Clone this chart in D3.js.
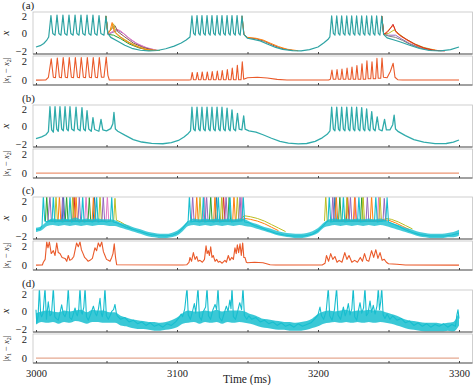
<!DOCTYPE html>
<html>
<head>
<meta charset="utf-8">
<script src="https://cdn.jsdelivr.net/npm/d3@7"></script>
<style>
  body { margin: 0; background: #fff; }
  text { font-family: "Liberation Serif", "DejaVu Serif", "Times New Roman", serif; }
</style>
</head>
<body>
<script>
// ---- data (time in ms) ----

// (a) synchronised bursting, top trace
var aMain = [
  [3000,-1.55],[3003,-1.4],[3005.5,-1.15],[3007.5,-0.8],[3009,-0.4],
  [3010.6,2.05],[3011.9,0.0],[3013.5,-0.2],[3014.9,2.1],[3016.2,0.0],[3017.7,-0.2],
  [3019.1,2.1],[3020.4,0.0],[3022.0,-0.2],[3023.4,2.1],[3024.7,0.0],[3026.3,-0.2],
  [3027.7,2.1],[3029.0,0.0],[3030.5,-0.2],[3031.9,2.1],[3033.2,0.0],[3034.8,-0.2],
  [3036.2,2.1],[3037.5,0.0],[3039.0,-0.2],[3040.4,2.1],[3041.7,0.0],[3043.3,-0.2],
  [3044.7,2.05],[3046.0,0.0],[3048.2,-0.2],[3049.6,1.95],[3050.9,0.0],
  [3053,-0.45],[3058,-0.9],[3063,-1.35],[3068,-1.7],[3074,-1.92],[3080,-2.0],[3086,-1.95],
  [3092,-1.75],[3098,-1.45],[3103,-1.1],[3106.5,-0.75],[3109.2,-0.4],
  [3110.6,2.0],[3111.8,0.0],[3112.9,-0.2],[3114.2,2.05],[3115.4,0.0],[3116.4,-0.2],
  [3117.7,2.05],[3118.9,0.0],[3120.0,-0.2],[3121.3,2.05],[3122.5,0.0],[3123.5,-0.2],
  [3124.8,2.05],[3126.0,0.0],[3127.1,-0.2],[3128.4,2.05],[3129.6,0.0],[3130.6,-0.2],
  [3131.9,2.05],[3133.1,0.0],[3134.2,-0.2],[3135.5,2.05],[3136.7,0.0],[3137.7,-0.2],
  [3139.0,2.05],[3140.2,0.0],[3141.3,-0.2],[3142.6,2.05],[3143.8,0.0],[3144.8,-0.2],
  [3146.1,2.0],[3147.4,-0.1],[3150,-0.55],[3155,-0.7],[3159,-0.85],[3164,-1.2],[3170,-1.6],
  [3175,-1.82],[3182,-1.96],[3188,-2.0],[3194,-1.85],[3200,-1.55],[3204,-1.1],[3207,-0.7],[3208.4,-0.4],
  [3209.7,2.0],[3210.9,0.0],[3212.0,-0.2],[3213.3,2.0],[3214.5,0.0],[3215.5,-0.2],
  [3216.8,2.0],[3218.0,0.0],[3219.1,-0.2],[3220.4,2.0],[3221.6,0.0],[3222.6,-0.2],
  [3223.9,2.0],[3225.1,0.0],[3226.1,-0.2],[3227.4,2.0],[3228.6,0.0],[3229.7,-0.2],
  [3231.0,2.0],[3232.2,0.0],[3233.2,-0.2],[3234.5,2.0],[3235.7,0.0],[3236.8,-0.2],
  [3238.1,2.0],[3239.3,0.0],[3240.3,-0.2],[3241.6,2.0],[3242.8,0.0],[3243.9,-0.2],
  [3245.2,1.95],[3246.5,-0.1],[3249,-0.5],[3254,-0.75],[3258,-0.95],[3265,-1.35],
  [3272,-1.72],[3279,-1.95],[3287,-2.0],[3294,-1.85],[3300,-1.55]
];

// (a) the other neurons, where they leave the common trace
var aOrange = [[3049.6,2.0],[3051,0.0],[3052.5,0.3],[3054,1.25],[3055.5,0.2],[3058,-0.2],[3063,-0.8],[3070,-1.4],[3078,-1.85],[3086,-1.95]];
var aOlive  = [[3049.6,2.0],[3051,0.0],[3053,0.4],[3055,1.1],[3056.5,0.1],[3060,-0.4],[3066,-1.0],[3073,-1.55],[3080,-1.9],[3088,-1.95]];
var aPink   = [[3049.6,2.0],[3051,-0.1],[3054,0.2],[3057,0.5],[3060,0.3],[3065,-0.4],[3071,-1.1],[3078,-1.6],[3085,-1.9]];
var aPurple = [[3049.6,2.0],[3051,-0.1],[3054,0.1],[3058,0.35],[3062,0.0],[3067,-0.7],[3073,-1.3],[3080,-1.75],[3087,-1.95]];
var aBrown  = [[3049.6,2.0],[3051,0.0],[3054,0.6],[3056,0.9],[3058,0.2],[3063,-0.4],[3069,-1.1],[3076,-1.6],[3083,-1.9]];
var aGreen  = [[3049.6,2.0],[3051,-0.1],[3055,-0.2],[3060,-0.6],[3066,-1.2],[3073,-1.65],[3081,-1.95]];
var aOrange2 = [[3146.1,2.0],[3147.5,-0.1],[3150,-0.45],[3156,-0.55],[3161,-0.75],[3166,-1.1],[3172,-1.5],[3178,-1.8],[3186,-1.98]];
var aBrown2  = [[3146.1,2.0],[3147.5,-0.15],[3150,-0.5],[3156,-0.6],[3162,-0.9],[3168,-1.35],[3174,-1.7],[3182,-1.95]];
var aRed3    = [[3245.2,2.0],[3246.6,-0.1],[3249,0.1],[3251.5,0.6],[3253.2,1.05],[3255,0.3],[3258,-0.2],[3263,-0.7],[3269,-1.25],[3275,-1.65],[3282,-1.92],[3290,-2.0]];
var aOrange3 = [[3245.2,2.0],[3246.6,-0.1],[3249,0.2],[3252,0.75],[3253.5,0.9],[3255.5,0.1],[3259,-0.35],[3265,-0.95],[3271,-1.45],[3278,-1.8],[3286,-1.98]];
var aOlive3  = [[3245.2,2.0],[3246.6,-0.1],[3250,0.0],[3254,0.4],[3257,0.0],[3262,-0.6],[3268,-1.15],[3275,-1.6],[3283,-1.9]];
var aGray3   = [[3245.2,2.0],[3246.6,-0.1],[3250,-0.3],[3255,-0.45],[3260,-0.8],[3266,-1.3],[3273,-1.7],[3281,-1.95]];
var aPurple3 = [[3245.2,2.0],[3246.6,-0.1],[3250,-0.2],[3255,-0.2],[3259,-0.6],[3265,-1.15],[3272,-1.6],[3280,-1.9]];

var aDiff = [
  [3000,0.0],[3007,0.02],[3008.8,0.3],
  [3010.8,2.2],[3012.3,0.3],[3013.8,0.25],[3015.1,2.3],[3016.6,0.3],[3018.0,0.25],
  [3019.3,2.35],[3020.8,0.3],[3022.3,0.25],[3023.6,2.35],[3025.1,0.3],[3026.6,0.25],
  [3027.9,2.35],[3029.4,0.3],[3030.8,0.25],[3032.1,2.35],[3033.6,0.3],[3035.1,0.25],
  [3036.4,2.35],[3037.9,0.3],[3039.3,0.25],[3040.6,2.35],[3042.1,0.3],[3043.6,0.25],
  [3044.9,2.35],[3046.4,0.3],[3048.2,0.3],[3049.8,2.4],[3051.0,0.5],[3052.0,0.02],
  [3108.5,0.02],[3109.9,0.05],
  [3110.8,0.8],[3111.7,0.05],[3113.5,0.05],[3114.4,0.8],[3115.3,0.05],[3117.0,0.05],
  [3117.9,0.85],[3118.8,0.05],[3120.6,0.05],[3121.5,0.85],[3122.4,0.05],[3124.1,0.05],
  [3125.0,0.9],[3125.9,0.05],[3127.7,0.05],[3128.6,0.95],[3129.5,0.05],[3131.2,0.05],
  [3132.1,1.0],[3133.0,0.05],[3134.8,0.05],[3135.7,1.1],[3136.6,0.05],[3138.3,0.05],
  [3139.2,1.25],[3140.1,0.05],[3141.9,0.05],[3142.8,1.55],[3143.7,0.05],[3145.4,0.05],
  [3146.3,1.9],[3147.3,0.1],[3150,0.25],[3157,0.3],[3164,0.22],[3171,0.08],[3178,0.02],
  [3207.5,0.02],[3208.8,0.1],
  [3209.9,1.05],[3210.8,0.1],[3212.6,0.1],[3213.5,1.1],[3214.4,0.1],[3216.1,0.1],
  [3217.0,1.15],[3217.9,0.1],[3219.7,0.1],[3220.6,1.25],[3221.5,0.1],[3223.2,0.1],
  [3224.1,1.35],[3225.0,0.1],[3226.7,0.1],[3227.6,1.5],[3228.5,0.1],[3230.3,0.1],
  [3231.2,1.7],[3232.1,0.1],[3233.8,0.1],[3234.7,2.0],[3235.6,0.15],[3237.4,0.15],
  [3238.3,1.9],[3239.2,0.15],[3240.9,0.15],[3241.8,2.25],[3242.7,0.2],[3244.5,0.2],
  [3245.4,2.3],[3246.4,0.3],[3249,0.25],[3251.3,0.9],[3253.3,1.75],[3254.6,0.3],
  [3256.5,0.05],[3260,0.02],[3300,0.02]
];

// (b) complete synchronisation
var bMain = [
  [3000,-1.4],[3004,-1.2],[3007,-0.95],[3008.8,-0.6],
  [3009.9,2.25],[3011.1,-0.4],[3012.3,-0.65],[3013.5,2.25],[3014.7,-0.3],[3015.8,-0.55],
  [3017.0,2.25],[3018.2,-0.3],[3019.4,-0.5],[3020.6,2.25],[3021.8,-0.3],[3022.9,-0.5],
  [3024.1,2.25],[3025.3,-0.3],[3027.0,-0.5],[3028.4,2.2],[3029.6,-0.3],[3031.3,-0.5],
  [3032.6,2.15],[3033.8,-0.3],[3035.0,-0.5],[3036.2,1.8],[3037.4,-0.3],[3039.2,-0.55],
  [3040.4,1.0],[3041.6,-0.35],[3044.6,-0.55],[3046.1,0.8],[3047.4,-0.4],[3050,-0.5],
  [3053,-0.25],[3054.5,0.3],[3055.3,1.6],[3056.3,-0.3],[3058,-0.55],[3063,-1.0],[3069,-1.5],
  [3075,-1.78],[3082,-1.93],[3090,-1.98],[3096,-1.85],[3101,-1.6],[3105,-1.2],[3108,-0.8],[3109.6,-0.5],
  [3110.6,2.2],[3111.8,-0.3],[3112.9,-0.5],[3114.2,2.2],[3115.4,-0.3],[3116.4,-0.5],
  [3117.7,2.2],[3118.9,-0.3],[3120.0,-0.5],[3121.3,2.2],[3122.5,-0.3],[3123.5,-0.5],
  [3124.8,2.2],[3126.0,-0.3],[3127.1,-0.5],[3128.4,2.2],[3129.6,-0.3],[3130.6,-0.5],
  [3131.9,2.2],[3133.1,-0.3],[3134.2,-0.5],[3135.5,2.1],[3136.7,-0.3],[3137.7,-0.5],
  [3139.0,1.9],[3140.2,-0.3],[3141.5,-0.5],[3142.9,1.5],[3144.1,-0.3],[3146.0,-0.4],
  [3147.3,1.2],[3148.3,-0.3],[3151,-0.5],[3156,-0.65],[3161,-0.95],[3167,-1.35],[3173,-1.7],
  [3179,-1.9],[3186,-2.0],[3192,-1.95],[3198,-1.7],[3203,-1.3],[3206.5,-0.9],[3208.5,-0.5],
  [3209.7,2.2],[3210.9,-0.3],[3212.0,-0.5],[3213.3,2.2],[3214.5,-0.3],[3215.5,-0.5],
  [3216.8,2.2],[3218.0,-0.3],[3219.1,-0.5],[3220.4,2.2],[3221.6,-0.3],[3222.6,-0.5],
  [3223.9,2.2],[3225.1,-0.3],[3226.1,-0.5],[3227.4,2.2],[3228.6,-0.3],[3229.7,-0.5],
  [3231.0,2.15],[3232.2,-0.3],[3233.2,-0.5],[3234.5,2.0],[3235.7,-0.3],[3236.8,-0.5],
  [3238.1,1.7],[3239.3,-0.3],[3240.5,-0.5],[3242.0,1.1],[3243.3,-0.35],[3245.5,-0.5],
  [3247.2,0.8],[3248.5,-0.4],[3251,-0.4],[3253,0.2],[3254,1.3],[3255,-0.3],[3257,-0.6],
  [3262,-1.05],[3268,-1.5],[3275,-1.8],[3283,-1.96],[3291,-1.95],[3296,-1.8],[3300,-1.55]
];
var bDiff = [[3000,0.0],[3300,0.0]];

// (c) noisy, desynchronised: noise band [t, low, high] and spikes
var cBand = [
  [3000,-1.55,-1.05],[3004,-1.35,-0.85],[3008,-0.85,-0.3],[3012,-0.75,0.0],[3016,-0.85,-0.1],[3020,-0.75,0.0],
  [3024,-0.85,-0.1],[3028,-0.75,0.1],[3032,-0.85,-0.1],[3036,-0.75,0.0],[3040,-0.85,-0.1],[3044,-0.75,0.0],
  [3048,-0.75,-0.1],[3052,-0.85,-0.1],[3056,-0.85,-0.2],[3060,-1.05,-0.5],[3064,-1.25,-0.7],[3068,-1.45,-0.95],
  [3072,-1.65,-1.15],[3076,-1.85,-1.35],[3080,-2.05,-1.55],[3084,-2.15,-1.65],[3088,-2.25,-1.75],[3092,-2.25,-1.75],
  [3096,-2.15,-1.65],[3100,-1.95,-1.4],[3104,-1.45,-0.9],[3108,-0.85,-0.3],[3112,-0.75,0.0],[3116,-0.85,-0.1],
  [3120,-0.75,0.0],[3124,-0.85,-0.1],[3128,-0.75,0.0],[3132,-0.85,-0.1],[3136,-0.75,0.0],[3140,-0.85,-0.1],
  [3144,-0.75,0.0],[3148,-0.85,-0.1],[3152,-0.95,-0.4],[3156,-1.15,-0.6],[3160,-1.35,-0.85],[3164,-1.55,-1.05],
  [3168,-1.75,-1.25],[3172,-1.95,-1.45],[3176,-2.05,-1.6],[3180,-2.15,-1.7],[3184,-2.25,-1.75],[3188,-2.25,-1.75],
  [3192,-2.15,-1.65],[3196,-1.95,-1.45],[3200,-1.65,-1.1],[3204,-1.05,-0.5],[3208,-0.85,-0.1],[3212,-0.75,0.0],
  [3216,-0.85,-0.1],[3220,-0.75,0.0],[3224,-0.85,-0.1],[3228,-0.75,0.0],[3232,-0.85,-0.1],[3236,-0.75,0.0],
  [3240,-0.85,-0.1],[3244,-0.75,0.0],[3248,-0.85,-0.2],[3252,-1.05,-0.5],[3256,-1.25,-0.7],[3260,-1.45,-0.95],
  [3264,-1.65,-1.15],[3268,-1.85,-1.35],[3272,-2.05,-1.55],[3276,-2.15,-1.65],[3280,-2.25,-1.75],[3284,-2.25,-1.75],
  [3288,-2.25,-1.75],[3292,-2.15,-1.65],[3296,-2.15,-1.55],[3300,-1.95,-1.3]
];
var cCyan = [
  [3000,-1.3],[3003,-1.2],[3004.3,-0.8],[3005.2,2.6],[3006.2,-0.3],[3008,-0.4],[3010,-0.2],[3011.4,-0.3],
  [3012.3,2.6],[3013.3,-0.4],[3016,-0.3],[3019,-0.4],[3021,-0.2],[3023.2,-0.3],[3024.1,2.6],[3025.1,-0.4],
  [3028,-0.3],[3031,-0.4],[3032.2,-0.3],[3033.1,2.6],[3034.1,-0.4],[3037,-0.3],[3040,-0.4],[3042.1,-0.2],
  [3043,2.6],[3044,-0.4],[3047,-0.3],[3050,-0.4],[3052.8,-0.3],[3053.7,2.5],[3054.7,-0.4],[3057,-0.5],
  [3060,-0.7],[3064,-1.0],[3068,-1.2],[3072,-1.4],[3076,-1.6],[3080,-1.8],[3086,-1.95],[3092,-2.0],
  [3097,-1.9],[3101,-1.6],[3104,-1.1],[3107,-0.5],[3107.9,-0.3],[3108.8,2.6],[3109.8,-0.4],[3113,-0.3],
  [3116,-0.4],[3117.8,-0.3],[3118.7,2.6],[3119.7,-0.4],[3123,-0.3],[3126,-0.4],[3128.4,-0.3],[3129.3,2.6],
  [3130.3,-0.4],[3134,-0.3],[3136.7,-0.3],[3137.6,2.6],[3138.6,-0.4],[3142,-0.3],[3146.1,-0.3],[3147,2.5],
  [3148,-0.4],[3151,-0.5],[3155,-0.8],[3160,-1.1],[3165,-1.4],[3170,-1.7],[3176,-1.9],[3182,-2.0],
  [3190,-2.0],[3196,-1.8],[3200,-1.4],[3204,-0.8],[3206,-0.4],[3207.1,-0.3],[3208,2.6],[3209,-0.4],
  [3213,-0.3],[3217.1,-0.3],[3218,2.6],[3219,-0.4],[3224,-0.3],[3228.1,-0.3],[3229,2.6],[3230,-0.4],
  [3235,-0.3],[3240.1,-0.3],[3241,2.6],[3242,-0.4],[3246,-0.3],[3248.1,-0.3],[3249,2.4],[3250,-0.4],
  [3253,-0.6],[3257,-0.9],[3262,-1.3],[3267,-1.6],[3272,-1.85],[3280,-2.0],[3290,-2.0],[3295,-1.9],[3300,-1.7]
];
var cPurple = [
  [[3008.5,-0.3],[3009.9,2.6],[3010.9,-0.3],[3018,-0.3],[3018.9,2.6],[3019.9,-0.3],[3029.8,-0.3],[3030.7,2.5],[3031.7,-0.3],[3046.8,-0.3],[3047.7,2.6],[3048.7,-0.3]],
  [[3110.2,-0.3],[3111.1,2.6],[3112.1,-0.3],[3120.1,-0.3],[3121.0,2.6],[3122.0,-0.3],[3133.9,-0.3],[3134.8,2.6],[3135.8,-0.3],[3143.8,-0.3],[3144.7,2.6],[3145.7,-0.3]],
  [[3209.6,-0.3],[3210.5,2.6],[3211.5,-0.3],[3222.1,-0.3],[3223.0,2.6],[3224.0,-0.3],[3234.1,-0.3],[3235.0,2.5],[3236.0,-0.3],[3246.1,-0.3],[3247.0,2.3],[3248.0,-0.3]]
];
var cOrange = [
  [[3015.7,-0.3],[3016.6,2.6],[3017.6,-0.3],[3027.5,-0.3],[3028.4,2.6],[3029.4,-0.3],[3039.8,-0.3],[3040.7,2.4],[3041.7,-0.3]],
  [[3113.1,-0.3],[3114.0,2.6],[3115.0,-0.3],[3126.0,-0.3],[3126.9,2.6],[3127.9,-0.3],[3139.5,-0.3],[3140.4,2.6],[3141.4,-0.3],[3146,-0.2],[3148,0.0],[3152,-0.1],[3157,-0.3],[3162,-0.6],[3167,-1.0],[3172,-1.4]],
  [[3212.1,-0.3],[3213.0,2.6],[3214.0,-0.3],[3225.1,-0.3],[3226.0,2.6],[3227.0,-0.3],[3237.1,-0.3],[3238.0,2.6],[3239.0,-0.3],[3246,-0.2],[3250,-0.2],[3255,-0.5],[3260,-0.9],[3265,-1.3]]
];
var cOlive = [
  [[3013.3,-0.3],[3014.2,2.5],[3015.2,-0.3],[3025.1,-0.3],[3026.0,2.6],[3027.0,-0.3],[3044.5,-0.3],[3045.4,2.6],[3046.4,-0.3],[3055.1,-0.3],[3056.0,2.3],[3057,-0.2],[3060,-0.4],[3064,-0.8],[3068,-1.2]],
  [[3115.4,-0.3],[3116.3,2.6],[3117.3,-0.3],[3130.8,-0.3],[3131.7,2.6],[3132.7,-0.3],[3141.9,-0.3],[3142.8,2.6],[3143.8,-0.3],[3146,0.1],[3148,0.3],[3152,0.2],[3157,0.0],[3162,-0.3],[3167,-0.7],[3172,-1.1],[3177,-1.5]],
  [[3204.6,-0.3],[3205.5,2.6],[3206.5,-0.3],[3219.6,-0.3],[3220.5,2.6],[3221.5,-0.3],[3231.1,-0.3],[3232.0,2.6],[3233.0,-0.3],[3243.1,-0.3],[3244.0,2.6],[3245.0,-0.3],[3248,0.0],[3252,-0.1],[3257,-0.4],[3262,-0.8],[3267,-1.2]]
];
var cGreen = [
  [[3006.7,-0.3],[3007.6,2.6],[3008.6,-0.3],[3020.8,-0.3],[3021.7,2.6],[3022.7,-0.3],[3036.9,-0.3],[3037.8,2.4],[3038.8,-0.3]],
  [[3123.0,-0.3],[3123.9,2.6],[3124.9,-0.3],[3136.1,-0.3],[3137.0,2.6],[3138.0,-0.3]],
  [[3214.6,-0.3],[3215.5,2.6],[3216.5,-0.3],[3230.1,-0.3],[3231.0,2.4],[3232.0,-0.3]]
];
var cPink = [
  [[3034.6,-0.3],[3035.5,2.6],[3036.5,-0.3],[3049.7,-0.3],[3050.6,2.6],[3051.6,-0.3]],
  [[3118.6,-0.3],[3119.5,2.6],[3120.5,-0.3],[3145.1,-0.3],[3146.0,2.5],[3147.0,-0.3]],
  [[3225.6,-0.3],[3226.5,2.4],[3227.5,-0.3],[3242.1,-0.3],[3243.0,2.6],[3244.0,-0.3]]
];
var cBlue = [
  [[3018.6,-0.3],[3019.5,2.6],[3020.5,-0.3],[3040.6,-0.3],[3041.5,2.5],[3042.5,-0.3]],
  [[3127.1,-0.3],[3128.0,2.6],[3129.0,-0.3]],
  [[3211.1,-0.3],[3212.0,2.6],[3213.0,-0.3]]
];
var cRed = [
  [[3026.1,-0.3],[3027.0,2.6],[3028.0,-0.3]],
  [[3132.1,-0.3],[3133.0,2.6],[3134.0,-0.3]],
  [[3220.1,-0.3],[3221.0,2.6],[3222.0,-0.3]]
];
var cDiff = [
  [3000,0.0],[3004.5,0.02],[3005.2,0.3],[3006.5,0.6],[3007.6,2.4],[3008.5,1.8],[3009.5,2.4],[3010.8,1.2],
  [3012.3,1.5],[3013.5,1.0],[3014.7,2.3],[3015.8,1.3],[3017,1.2],[3018.5,0.8],[3020.6,0.7],[3021.8,0.4],
  [3022.9,1.0],[3024,0.5],[3025.3,0.6],[3026.8,0.9],[3028.8,2.3],[3030,1.9],[3031.2,2.4],[3032.2,1.6],
  [3033.1,1.3],[3034.5,0.8],[3035.9,0.6],[3037,0.4],[3038.3,0.5],[3040,0.7],[3041.8,1.8],[3043,1.5],
  [3044.2,2.3],[3045.4,1.9],[3046.6,2.4],[3047.8,1.4],[3048.9,1.0],[3050,0.6],[3051.3,0.5],[3052.5,0.4],
  [3053.7,0.8],[3054.6,1.2],[3055.5,2.2],[3056.4,0.8],[3057.2,0.05],[3104,0.02],
  [3107,0.05],[3108.5,0.3],[3109.2,0.8],[3110.3,0.4],[3111.6,1.3],[3112.8,0.6],[3114,0.9],[3115,0.4],
  [3116.3,0.5],[3118,0.3],[3119.5,0.6],[3120.6,2.0],[3121.4,1.2],[3122.2,1.5],[3123,1.0],[3123.9,1.9],
  [3124.8,0.8],[3125.7,1.0],[3127,0.4],[3128.1,0.6],[3129.3,0.3],[3130.5,0.4],[3132,0.2],[3134,0.5],
  [3135,0.3],[3136.4,1.0],[3137.5,0.5],[3138.8,0.8],[3140,0.6],[3141.1,1.8],[3142,1.2],[3142.8,2.1],
  [3143.7,1.3],[3144.7,2.2],[3145.6,1.0],[3146.6,2.3],[3147.4,0.8],[3148.2,0.8],[3149.2,0.3],[3150,0.25],
  [3155,0.3],[3161,0.25],[3166,0.05],[3170,0.02],[3203,0.02],
  [3205,0.2],[3206,1.0],[3207.5,0.4],[3209,1.2],[3210.5,0.6],[3212,0.9],[3213.5,0.3],[3215,0.5],
  [3217,0.3],[3219,1.3],[3220.5,0.6],[3222,1.0],[3224,0.3],[3226,0.5],[3228,0.3],[3230,0.8],
  [3231.5,0.4],[3233,1.2],[3234.5,0.5],[3236,0.4],[3238,1.5],[3239.5,0.8],[3241,1.6],[3242.5,0.7],
  [3244,1.3],[3245.5,0.5],[3247,0.6],[3248.5,0.3],[3250,0.15],[3256,0.1],[3262,0.02],[3300,0.0]
];

// (d) noisy, synchronised
var dBand = [
  [3000,-1.5,-0.2],[3004,-1.2,0.0],[3008,-1.3,0.1],[3012,-1.2,0.0],[3016,-1.4,-0.1],[3020,-1.2,0.1],
  [3024,-1.3,0.0],[3028,-1.1,0.1],[3032,-1.2,0.2],[3036,-1.4,-0.1],[3040,-1.2,0.2],[3044,-1.2,0.1],
  [3048,-1.3,0.1],[3052,-1.3,-0.1],[3056,-1.3,-0.1],[3060,-1.6,-0.5],[3064,-1.7,-0.7],[3068,-1.9,-0.9],
  [3072,-2.0,-1.0],[3076,-2.0,-1.1],[3080,-2.1,-1.2],[3084,-2.2,-1.2],[3088,-2.2,-1.3],[3092,-2.1,-1.2],
  [3096,-2.0,-1.0],[3100,-1.8,-0.7],[3104,-1.4,-0.2],[3108,-1.3,0.1],[3112,-1.2,0.0],[3116,-1.4,0.0],
  [3120,-1.2,0.1],[3124,-1.3,0.0],[3128,-1.2,0.2],[3132,-1.4,0.0],[3136,-1.2,0.1],[3140,-1.3,0.1],
  [3144,-1.2,0.1],[3148,-1.3,0.0],[3152,-1.4,-0.3],[3156,-1.6,-0.5],[3160,-1.8,-0.8],[3164,-1.9,-0.9],
  [3168,-2.0,-1.0],[3172,-2.1,-1.1],[3176,-2.1,-1.2],[3180,-2.2,-1.2],[3184,-2.2,-1.3],[3188,-2.2,-1.2],
  [3192,-2.1,-1.1],[3196,-1.9,-0.8],[3200,-1.7,-0.3],[3204,-1.4,0.0],[3208,-1.3,0.1],[3212,-1.2,0.0],
  [3216,-1.3,0.1],[3220,-1.2,0.2],[3224,-1.3,0.0],[3228,-1.2,0.1],[3232,-1.3,0.1],[3236,-1.2,0.2],
  [3240,-1.3,0.1],[3244,-1.2,0.1],[3248,-1.3,-0.1],[3252,-1.4,-0.3],[3256,-1.6,-0.5],[3260,-1.8,-0.8],
  [3264,-2.0,-1.0],[3268,-2.1,-1.1],[3272,-2.2,-1.2],[3276,-2.3,-1.3],[3280,-2.3,-1.3],[3284,-2.3,-1.3],
  [3288,-2.3,-1.4],[3292,-2.2,-1.3],[3296,-2.3,-1.2],[3300,-1.6,0.0]
];
var dLine = [
  [3000,0.2],[3000.5,-1.3],[3001.5,-0.5],[3002.4,2.7],[3003.3,-0.3],[3004,-0.6],[3005,-0.2],[3006.4,2.7],
  [3007.4,-0.9],[3008.7,1.1],[3009.9,-0.5],[3011,-0.3],[3012.3,2.7],[3013.3,-0.6],[3014.2,-0.8],[3015.8,-1.0],
  [3017,-0.2],[3018.2,0.75],[3019.4,-0.3],[3020.6,-0.6],[3021.8,0.0],[3022.9,2.7],[3023.9,-0.7],[3025.3,-0.9],
  [3026.5,-0.3],[3027.7,0.4],[3028.5,-0.2],[3029.3,-0.5],[3030.3,0.2],[3031.2,2.7],[3032.1,-0.1],[3032.8,-0.3],
  [3033.9,0.5],[3034.8,2.7],[3035.8,-0.6],[3037.1,-1.0],[3039,-0.2],[3040.7,0.6],[3042,-0.2],[3043,-0.5],
  [3044.3,0.3],[3045.4,1.5],[3046.3,-0.2],[3047,-0.6],[3048,0.2],[3048.9,2.7],[3049.9,-0.5],[3051.3,-0.9],
  [3052.5,-0.5],[3053.7,0.0],[3055,0.2],[3056,0.8],[3057,-0.2],[3057.7,-0.5],[3060,-0.9],[3063,-0.7],
  [3066,-1.2],[3069,-1.0],[3072,-1.4],[3075,-1.2],[3078,-1.6],[3081,-1.3],[3084,-1.7],[3087,-1.5],
  [3090,-1.8],[3093,-1.4],[3096,-1.6],[3099,-1.2],[3101,-0.8],[3103,-0.3],[3104,-0.6],[3105.5,0.3],
  [3107.1,2.7],[3108,-0.4],[3109.5,-0.9],[3111,0.0],[3112.3,0.9],[3113.3,-0.2],[3114.9,2.7],[3115.9,-0.6],
  [3117.3,-1.0],[3118.7,0.0],[3120.3,0.5],[3121.3,2.7],[3122.3,-0.5],[3123.8,-0.9],[3125.5,0.2],[3127,0.8],
  [3128.1,0.2],[3129.1,2.7],[3130.1,-0.7],[3131.8,-1.1],[3133.5,-0.2],[3135,0.6],[3136.2,0.0],[3137.5,1.3],
  [3138.3,0.3],[3139,2.7],[3140,-0.6],[3141.5,-0.9],[3143,0.0],[3144.5,1.0],[3145.8,0.2],[3146.8,2.7],
  [3147.8,-0.5],[3149.5,-0.9],[3151,-0.5],[3153,-0.9],[3156,-0.7],[3159,-1.2],[3162,-1.0],[3165,-1.4],
  [3168,-1.2],[3171,-1.6],[3174,-1.3],[3177,-1.7],[3180,-1.5],[3183,-1.8],[3186,-1.4],[3189,-1.7],
  [3192,-1.5],[3195,-1.3],[3198,-0.8],[3200,-0.4],[3201.4,0.5],[3202.5,-0.5],[3204,-0.9],[3205.8,0.0],
  [3207.3,2.7],[3208.3,-0.5],[3210,-1.0],[3211.7,0.2],[3213.2,2.7],[3214.2,-0.4],[3216,-0.9],[3217,-0.2],
  [3218,0.5],[3219.3,-0.5],[3220.4,0.0],[3221.5,0.9],[3222.7,-0.4],[3224,0.3],[3225,2.7],[3226,-0.6],
  [3227.5,-1.0],[3228.8,0.2],[3229.8,1.0],[3231,-0.2],[3232.3,0.4],[3233.3,2.7],[3234.3,-0.5],[3235.5,-0.2],
  [3236.9,1.2],[3238,-0.1],[3239.2,0.7],[3240.5,-0.3],[3241.8,0.6],[3242.8,2.7],[3243.6,0.2],[3244.4,1.0],
  [3245.2,2.7],[3246.2,-0.4],[3247.5,-0.8],[3249,-0.3],[3251,-0.9],[3253,-0.5],[3256,-1.0],[3259,-0.8],
  [3262,-1.3],[3265,-1.1],[3268,-1.6],[3271,-1.3],[3274,-1.7],[3277,-1.4],[3280,-1.8],[3283,-1.5],
  [3286,-1.7],[3289,-1.4],[3292,-1.8],[3295,-1.5],[3297.5,-1.7],[3298.5,-0.4],[3299.3,0.2],[3300,-0.8]
];
var dDiff = [[3000,0.0],[3300,0.0]];

var panelLabels = ["(a)", "(b)", "(c)", "(d)"];
var xTickValues = [3000, 3050, 3100, 3150, 3200, 3250, 3300];
var xTickLabels = [3000, 3100, 3200, 3300];
var xYTicks = [-2, 0, 2];
var diffYTicks = [0, 2];

// ---- layout ----
var W = 474, H = 385;
var frameL = 33, frameR = 472.5;
var groupTop = [12, 105, 197, 290];
var serif = "'Liberation Serif', 'DejaVu Serif', 'Times New Roman', serif";

var teal = "#2ea3a3", cyan = "#17becf", red = "#ea5a2a";
var tab = {blue:"#1f77b4", orange:"#ff7f0e", green:"#2ca02c", red:"#d62728", purple:"#9467bd",
           brown:"#8c564b", pink:"#e377c2", gray:"#7f7f7f", olive:"#bcbd22"};

var groups = [
  { traces: [
      {d: aGreen, c: tab.green}, {d: aPurple, c: tab.purple}, {d: aPink, c: tab.pink},
      {d: aBrown, c: tab.brown}, {d: aOlive, c: tab.olive}, {d: aOrange, c: tab.orange},
      {d: aBrown2, c: tab.brown}, {d: aOrange2, c: tab.orange},
      {d: aPurple3, c: tab.purple}, {d: aGray3, c: tab.gray}, {d: aOlive3, c: tab.olive},
      {d: aOrange3, c: tab.orange}, {d: aRed3, c: tab.red},
      {d: aMain, c: teal, w: 1.2}],
    diff: {d: aDiff, c: red} },
  { traces: [{d: bMain, c: "#30abab", w: 1.3}], diff: {d: bDiff, c: "#ec9573"} },
  { band: cBand, bandOpacity: 0.8,
    segs: [{d: cRed, c: tab.red}, {d: cBlue, c: tab.blue}, {d: cPink, c: tab.pink},
           {d: cGreen, c: tab.green}, {d: cOlive, c: tab.olive}, {d: cOrange, c: tab.orange},
           {d: cPurple, c: tab.purple}],
    traces: [{d: cCyan, c: cyan, w: 1.1}],
    diff: {d: cDiff, c: red} },
  { band: dBand, bandOpacity: 0.85, traces: [{d: dLine, c: cyan, w: 1.1}], diff: {d: dDiff, c: "#e5a890"} }
];

var x = d3.scaleLinear().domain([3000, 3300]).range([36, 459]);

var svg = d3.select("body").append("svg")
  .attr("width", W)
  .attr("height", H);

var defs = svg.append("defs");

function frame(top, bottom) {
  svg.append("rect")
    .attr("x", frameL).attr("y", top)
    .attr("width", frameR - frameL).attr("height", bottom - top)
    .attr("fill", "none").attr("stroke", "#c4c4c4").attr("stroke-width", 0.8);
  svg.append("line")
    .attr("x1", frameL).attr("x2", frameR).attr("y1", bottom).attr("y2", bottom)
    .attr("stroke", "#5a5a5a").attr("stroke-width", 1);
  // small inward ticks on the time axis
  svg.append("g")
    .attr("transform", "translate(0," + bottom + ")")
    .call(d3.axisBottom(x).tickValues(xTickValues).tickSize(-2).tickFormat(""))
    .call(function(g) {
      g.select(".domain").remove();
      g.selectAll("line").attr("stroke", "#444");
    });
}

function yLabels(scale, values) {
  svg.append("g")
    .attr("transform", "translate(" + frameL + ",0)")
    .call(d3.axisLeft(scale).tickValues(values).tickSize(0).tickPadding(6).tickFormat(d3.format("d")))
    .call(function(g) {
      g.select(".domain").remove();
      g.selectAll("text")
        .style("font-family", serif)
        .attr("font-size", 10.5)
        .attr("fill", "#222");
    });
}

function clip(id, top, bottom) {
  defs.append("clipPath").attr("id", id)
    .append("rect")
    .attr("x", frameL).attr("y", top)
    .attr("width", frameR - frameL).attr("height", bottom - top);
}

groups.forEach(function(gr, i) {
  var T = groupTop[i];
  var yX = d3.scaleLinear().domain([-2.35, 2.45]).range([T + 42, T]);
  var yD = d3.scaleLinear().domain([-0.5, 2.5]).range([T + 73, T + 44]);

  clip("cx" + i, T, T + 42);
  clip("cd" + i, T + 44, T + 73);

  var line = d3.line().x(function(d) { return x(d[0]); }).y(function(d) { return yX(d[1]); });
  var lineD = d3.line().x(function(d) { return x(d[0]); }).y(function(d) { return yD(d[1]); });

  var gx = svg.append("g").attr("clip-path", "url(#cx" + i + ")");

  if (gr.segs) {
    gr.segs.forEach(function(s) {
      gx.selectAll(null).data(s.d).enter().append("path")
        .attr("d", line)
        .attr("fill", "none")
        .attr("stroke", s.c)
        .attr("stroke-width", 1)
        .attr("stroke-linejoin", "round");
    });
  }

  if (gr.band) {
    var area = d3.area()
      .x(function(d) { return x(d[0]); })
      .y0(function(d) { return yX(d[1]); })
      .y1(function(d) { return yX(d[2]); })
      .curve(d3.curveMonotoneX);
    gx.append("path").datum(gr.band)
      .attr("d", area)
      .attr("fill", cyan)
      .attr("fill-opacity", gr.bandOpacity);
  }

  gr.traces.forEach(function(t) {
    gx.append("path").datum(t.d)
      .attr("d", line)
      .attr("fill", "none")
      .attr("stroke", t.c)
      .attr("stroke-width", t.w || 1)
      .attr("stroke-linejoin", "round");
  });

  svg.append("g").attr("clip-path", "url(#cd" + i + ")")
    .append("path").datum(gr.diff.d)
    .attr("d", lineD)
    .attr("fill", "none")
    .attr("stroke", gr.diff.c)
    .attr("stroke-width", 1.1)
    .attr("stroke-linejoin", "round");

  frame(T, T + 42);
  frame(T + 44, T + 73);
  yLabels(yX, xYTicks);
  yLabels(yD, diffYTicks);

  svg.append("text")
    .attr("x", 22).attr("y", T - 3)
    .style("font-family", serif)
    .attr("font-size", 11)
    .attr("fill", "#222")
    .text(panelLabels[i]);

  svg.append("text")
    .attr("transform", "translate(9," + (T + 21) + ") rotate(-90)")
    .attr("text-anchor", "middle")
    .style("font-family", serif)
    .attr("font-size", 11)
    .attr("font-style", "italic")
    .attr("fill", "#222")
    .text("x");

  var dl = svg.append("text")
    .attr("transform", "translate(9," + (T + 58.5) + ") rotate(-90)")
    .attr("text-anchor", "middle")
    .style("font-family", serif)
    .attr("font-size", 8.5)
    .attr("fill", "#222");
  dl.append("tspan").text("|");
  dl.append("tspan").attr("font-style", "italic").text("x");
  dl.append("tspan").attr("font-size", 6).attr("dy", 1.5).text("1");
  dl.append("tspan").attr("dy", -1.5).text(" \u2212 ");
  dl.append("tspan").attr("font-style", "italic").text("x");
  dl.append("tspan").attr("font-size", 6).attr("dy", 1.5).text("2");
  dl.append("tspan").attr("dy", -1.5).text("|");
});

// time labels under the last panel
svg.append("g")
  .attr("transform", "translate(0," + (groupTop[3] + 73) + ")")
  .call(d3.axisBottom(x).tickValues(xTickLabels).tickSize(0).tickPadding(7).tickFormat(d3.format("d")))
  .call(function(g) {
    g.select(".domain").remove();
    g.selectAll("text")
      .style("font-family", serif)
      .attr("font-size", 10.5)
      .attr("fill", "#222");
  });

svg.append("text")
  .attr("x", 247).attr("y", 383)
  .attr("text-anchor", "middle")
  .style("font-family", serif)
  .attr("font-size", 11.5)
  .attr("fill", "#222")
  .text("Time (ms)");
</script>
</body>
</html>
